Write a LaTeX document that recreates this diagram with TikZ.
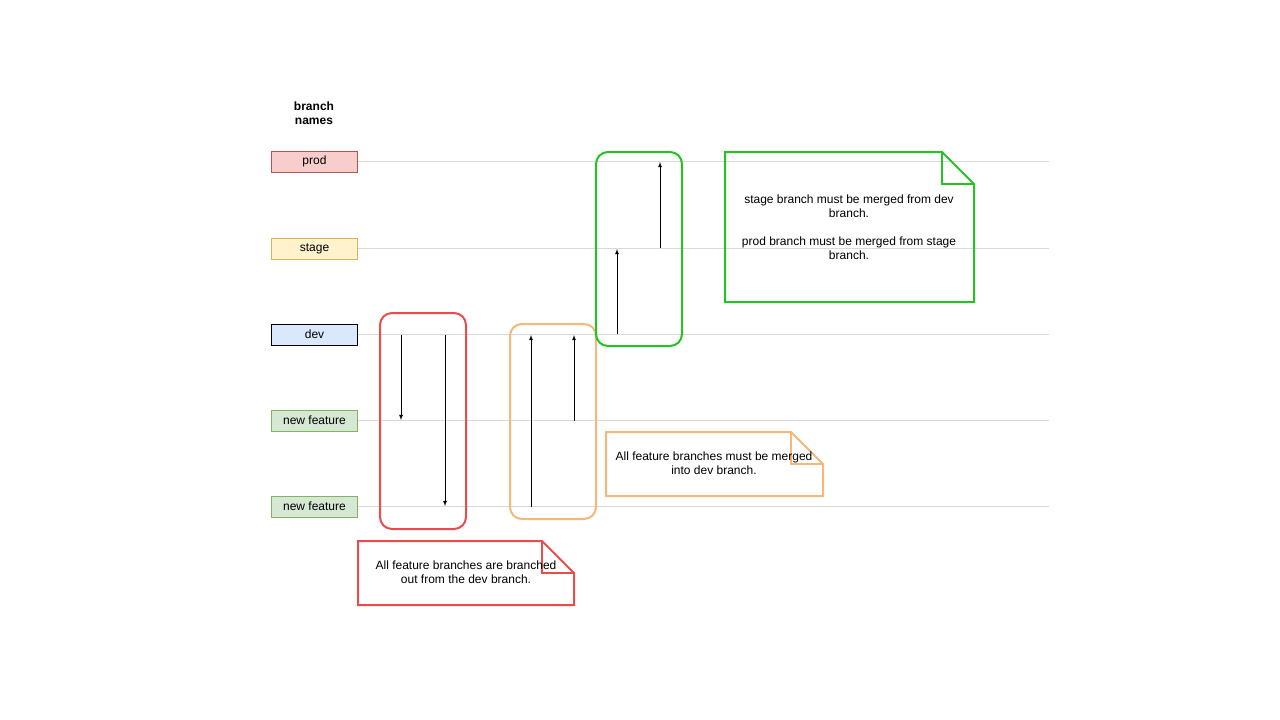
\documentclass[tikz,border=0pt]{standalone}
\usepackage{fontspec}
\setmainfont{Liberation Sans}
\begin{document}
\begin{tikzpicture}[x=1pt,y=-1pt,
  br/.style={draw=#1, minimum width=86pt, minimum height=21pt, inner sep=0pt, font=\fontsize{12}{14}\selectfont},
  lane/.style={draw=black!15, line width=1pt},
  grp/.style={draw=#1, line width=2pt, rounded corners=12pt},
  arr/.style={-latex, line width=0.8pt},
  txt/.style={align=center, font=\fontsize{12}{14}\selectfont}]
\useasboundingbox (0,0) rectangle (1280,720);
\definecolor{pf}{HTML}{F8CECC}\definecolor{ps}{HTML}{B85450}
\definecolor{sf}{HTML}{FFF2CC}\definecolor{ss}{HTML}{D6B656}
\definecolor{df}{HTML}{DAE8FC}
\definecolor{ff}{HTML}{D5E8D4}\definecolor{fs}{HTML}{82B366}
\definecolor{rd}{HTML}{EA4C4C}\definecolor{org}{HTML}{F5B77A}\definecolor{gr}{HTML}{22C322}
\node[txt, font=\bfseries\fontsize{12}{14}\selectfont] (title) at (314,113) {branch\\names};
\foreach \y in {161,248,334,420,506} \draw[lane] (357,\y) -- (1049,\y);
\node[br=ps, fill=pf] (prod) at (314.5,161.5) {prod};
\node[br=ss, fill=sf] (stage) at (314.5,248.5) {stage};
\node[br=black, fill=df] (dev) at (314.5,334.5) {dev};
\node[br=fs, fill=ff] (nf1) at (314.5,420.5) {new feature};
\node[br=fs, fill=ff] (nf2) at (314.5,506.5) {new feature};
\draw[grp=rd] (380,313) rectangle (466,529);
\draw[grp=org] (510,324) rectangle (596,519);
\draw[grp=gr] (596,152) rectangle (682,346);
\coordinate (a1s) at (401,335); \coordinate (a1e) at (401,420);
\coordinate (a2s) at (445,335); \coordinate (a2e) at (445,506);
\coordinate (a3s) at (531,507); \coordinate (a3e) at (531,335);
\coordinate (a4s) at (574,421); \coordinate (a4e) at (574,335);
\coordinate (a5s) at (617,334); \coordinate (a5e) at (617,249);
\coordinate (a6s) at (660,248); \coordinate (a6e) at (660,162);
\foreach \i in {1,...,6} \draw[arr] (a\i s) -- (a\i e);
% notes
\draw[draw=gr, line width=2pt] (725,152) -- (942,152) -- (974,184) -- (974,302) -- (725,302) -- cycle;
\draw[draw=gr, line width=2pt] (942,152) -- (942,184) -- (974,184);
\node[txt] (n1) at (849,227) {stage branch must be merged from dev\\branch.\\[14pt]prod branch must be merged from stage\\branch.};
\draw[draw=org, line width=2pt] (606,432) -- (791,432) -- (823,464) -- (823,496) -- (606,496) -- cycle;
\draw[draw=org, line width=2pt] (791,432) -- (791,464) -- (823,464);
\node[txt] (n2) at (714,463) {All feature branches must be merged\\into dev branch.};
\draw[draw=rd, line width=2pt] (358,541) -- (542,541) -- (574,573) -- (574,605) -- (358,605) -- cycle;
\draw[draw=rd, line width=2pt] (542,541) -- (542,573) -- (574,573);
\node[txt] (n3) at (466,572) {All feature branches are branched\\out from the dev branch.};
\end{tikzpicture}
\end{document}
